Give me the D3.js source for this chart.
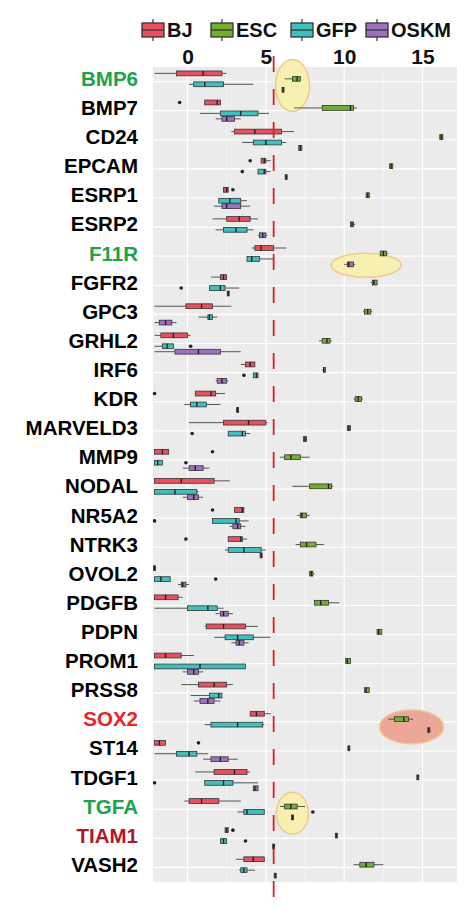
<!DOCTYPE html>
<html><head><meta charset="utf-8">
<script src="https://cdn.jsdelivr.net/npm/d3@7"></script>
<style>body{margin:0;background:#fff}text{font-family:"Liberation Sans",Arial,sans-serif;font-weight:bold}</style>
</head><body><svg id="c" width="474" height="908"></svg>
<script>
const genes=["BMP6","BMP7","CD24","EPCAM","ESRP1","ESRP2","F11R","FGFR2","GPC3","GRHL2","IRF6","KDR","MARVELD3","MMP9","NODAL","NR5A2","NTRK3","OVOL2","PDGFB","PDPN","PROM1","PRSS8","SOX2","ST14","TDGF1","TGFA","TIAM1","VASH2"];
const geneColors={BMP6:"#1aa34a",F11R:"#1aa34a",TGFA:"#1aa34a",SOX2:"#e8262a",TIAM1:"#b0182a"};
const groups=["BJ","ESC","GFP","OSKM"];
const groupColors=["#e8505f","#6fb02c","#3fbfbf","#a070c0"];
const xTicks=[0,5,10,15];
const threshold=5.5;
// [lo,q1,median,q3,hi]
const bjStats=[[-2.1,-0.7,1.0,2.2,2.5],[1.1,1.1,1.9,2.1,2.1],[2.8,3.0,4.3,6.0,6.8],[4.7,4.7,4.9,5.0,5.3],[2.3,2.3,2.5,2.6,2.6],[1.6,2.5,3.3,4.0,4.5],[4.1,4.3,4.7,5.5,6.3],[1.5,2.1,2.3,2.5,2.5],[-2.1,-0.1,0.9,1.6,2.8],[-2.1,-1.7,-0.9,0,0.2],[3.4,3.7,4.0,4.3,4.3],[0.5,0.5,1.5,1.8,2.4],[0.1,2.3,3.9,5.0,5.1],[-2.1,-2.1,-1.6,-1.2,-1.2],[-2.1,-2.1,-0.4,1.7,2.7],[3.0,3.0,3.5,3.6,3.6],[2.6,2.6,3.4,3.5,3.8],[-2.1,-2.1,-2.1,-2.1,-2.1],[-2.1,-2.1,-1.4,-0.6,-0.3],[1.1,1.2,2.3,3.7,4.5],[-2.1,-2.1,-1.4,-0.4,0.4],[-0.4,0.7,1.7,2.5,2.9],[4.0,4.0,4.4,4.9,5.3],[-2.1,-2.1,-1.8,-1.4,-1.4],[0.5,1.7,3.0,3.8,4.0],[-0.2,0.1,0.9,2.0,3.4],[2.4,2.4,2.5,2.6,2.6],[3.1,3.6,4.2,4.9,4.9]];
const bjOut=[[],[-0.5],[],[4.0],[2.9],[],[],[],[],[],[],[-2.1],[],[1.6],[],[1.6],[-0.1],[],[],[],[],[],[],[0.7],[],[],[2.9],[]];
const escStats=[[6.2,6.7,7.0,7.2,7.2],[6.8,8.6,10.4,10.6,10.8],[16.1,16.1,16.2,16.3,16.3],[12.9,12.9,13.0,13.1,13.1],[11.4,11.4,11.5,11.6,11.6],[10.4,10.4,10.5,10.6,10.7],[12.3,12.3,12.5,12.7,12.8],[11.7,11.8,11.9,12.1,12.1],[11.2,11.3,11.5,11.7,11.8],[8.4,8.6,8.9,9.1,9.2],[8.6,8.7,8.7,8.8,8.8],[10.6,10.7,10.9,11.1,11.2],[10.2,10.2,10.3,10.4,10.4],[5.9,6.2,6.6,7.2,7.8],[6.7,7.8,9.0,9.2,9.3],[7.0,7.2,7.3,7.6,7.8],[6.9,7.2,7.6,8.2,8.7],[7.8,7.8,7.9,8.0,8.1],[8.1,8.1,8.5,9.0,9.7],[12.1,12.1,12.2,12.4,12.4],[10.1,10.1,10.2,10.4,10.4],[11.3,11.3,11.4,11.6,11.6],[12.8,13.2,13.8,14.1,14.4],[10.3,10.3,10.3,10.3,10.3],[14.7,14.7,14.7,14.7,14.7],[5.9,6.2,6.6,7.0,7.5],[9.5,9.5,9.5,9.5,9.5],[10.6,11.0,11.4,11.9,12.5]];
const escOut=genes.map(()=>[]);
const gfpStats=[[0.1,0.4,1.1,2.3,4.2],[0.8,2.1,3.4,4.5,5.2],[3.5,4.2,5.0,6.0,6.3],[4.5,4.5,4.9,5.0,5.3],[2.0,2.0,2.7,3.4,3.8],[1.8,2.3,3.1,3.8,4.2],[3.8,3.8,4.1,4.6,5.5],[1.4,1.4,2.1,2.4,3.3],[0.7,1.3,1.4,1.6,1.9],[-2.1,-1.6,-1.3,-0.9,-0.9],[4.2,4.2,4.4,4.5,4.5],[-0.2,0.2,0.6,1.2,2.1],[2.6,2.6,3.5,3.7,4.0],[-2.1,-2.1,-1.9,-1.6,-1.6],[-2.1,-2.1,-0.8,0.6,0.7],[1.6,1.6,3.1,3.3,3.9],[2.4,2.6,3.6,4.7,5.0],[-2.1,-2.1,-1.7,-1.1,-1.1],[-2.1,0,1.3,1.9,2.3],[1.7,2.4,3.2,4.2,5.3],[-2.1,-2.1,0.8,3.7,3.7],[0.2,1.4,2.0,2.2,2.2],[1.1,1.5,3.2,4.8,4.9],[-2.1,-0.7,0.1,0.6,1.3],[1.1,1.1,2.3,2.9,4.5],[3.2,3.6,3.8,4.9,4.9],[2.1,2.1,2.3,2.5,2.5],[3.3,3.4,3.6,3.8,4.3]];
const gfpOut=[[],[],[],[3.5],[],[],[],[-0.4],[],[0.2],[3.6],[],[0.3],[-0.1],[],[-2.1],[],[1.8],[],[],[],[],[],[],[-2.1],[8.0],[3.7],[]];
const oskmStats=[[6.1,6.1,6.1,6.1,6.1],[1.8,2.2,2.5,3.0,3.4],[7.1,7.1,7.2,7.3,7.3],[6.3,6.3,6.3,6.3,6.3],[1.7,2.2,2.5,3.4,4.0],[4.5,4.6,4.8,5.0,5.1],[10.0,10.2,10.3,10.6,10.7],[2.6,2.6,2.6,2.6,2.6],[-2.1,-1.8,-1.4,-1.0,-0.7],[-2.1,-0.8,0.7,2.1,3.4],[1.8,1.9,2.2,2.5,2.6],[3.2,3.2,3.2,3.2,3.2],[7.4,7.4,7.5,7.6,7.6],[-0.3,0.1,0.5,1.0,1.4],[-0.3,0.0,0.4,0.7,1.0],[2.7,2.9,3.2,3.4,3.7],[4.7,4.7,4.7,4.7,4.7],[-0.6,-0.4,-0.3,-0.1,0.1],[1.8,2.1,2.3,2.6,2.9],[2.8,3.1,3.3,3.6,3.9],[-0.3,0,0.4,0.7,1.0],[0.4,0.8,1.3,1.7,2.1],[15.4,15.4,15.4,15.4,15.4],[1.0,1.5,2.1,2.6,3.2],[4.2,4.2,4.3,4.5,4.5],[6.7,6.7,6.7,6.7,6.7],[5.5,5.5,5.5,5.5,5.5],[5.6,5.6,5.6,5.6,5.6]];
const oskmOut=genes.map(()=>[]);
const allStats=[bjStats,escStats,gfpStats,oskmStats];
const allOut=[bjOut,escOut,gfpOut,oskmOut];
const highlights=[{gene:"BMP6",x:6.7,rx:17,ry:26,dy:4,fill:"#f7f0b0"},{gene:"F11R",x:11.4,rx:35,ry:12,dy:9,fill:"#f7f0b0"},{gene:"SOX2",x:14.3,rx:32,ry:17,dy:5,fill:"#eba898"},{gene:"TGFA",x:6.7,rx:16,ry:21,dy:4,fill:"#f7f0b0"}];

const svg=d3.select("#c");
const L=153,R=457,T=67,B=882;
const x=d3.scaleLinear().domain([-2.2,17.2]).range([L,R]);
const y=d3.scaleBand().domain(genes).range([T,B]);
const yg=d3.scaleBand().domain(groups).range([-y.bandwidth()*0.375,y.bandwidth()*0.375]);
svg.append("rect").attr("x",L).attr("y",T).attr("width",R-L).attr("height",B-T).attr("fill","#ebebeb");
const minor=[-2.5,2.5,7.5,12.5];
minor.forEach(v=>{if(x(v)>L)svg.append("line").attr("x1",x(v)).attr("x2",x(v)).attr("y1",T).attr("y2",B).attr("stroke","#f7f7f7").attr("stroke-width",0.6);});
xTicks.forEach(v=>svg.append("line").attr("x1",x(v)).attr("x2",x(v)).attr("y1",T).attr("y2",B).attr("stroke","#fff").attr("stroke-width",1.2));
genes.forEach(g=>svg.append("line").attr("x1",L).attr("x2",R).attr("y1",y(g)+y.bandwidth()/2).attr("y2",y(g)+y.bandwidth()/2).attr("stroke","#fff").attr("stroke-width",1.2));
highlights.forEach(h=>svg.append("ellipse").attr("cx",x(h.x)).attr("cy",y(h.gene)+y.bandwidth()/2+h.dy).attr("rx",h.rx).attr("ry",h.ry).attr("fill",h.fill).attr("stroke","#f0c890").attr("stroke-width",1.5));
const ax=svg.append("g").attr("transform",`translate(0,${T})`).call(d3.axisTop(x).tickValues(xTicks).tickSize(0).tickPadding(3));
ax.select(".domain").remove();
ax.selectAll("text").attr("font-size",21).attr("fill","#111");
genes.forEach(g=>svg.append("text").attr("x",138).attr("y",y(g)+y.bandwidth()/2-3).attr("dy","0.36em").attr("text-anchor","end").attr("font-size",20.5).attr("fill",geneColors[g]||"#000").text(g));
const bh=4.8;
groups.forEach((grp,gi)=>{
  genes.forEach((g,i)=>{
    const s=allStats[gi][i]; if(!s)return;
    const cy=y(g)+y.bandwidth()/2+yg(grp)+yg.bandwidth()/2;
    const gEl=svg.append("g");
    gEl.append("line").attr("x1",x(s[0])).attr("x2",x(s[1])).attr("y1",cy).attr("y2",cy).attr("stroke","#555").attr("stroke-width",1);
    gEl.append("line").attr("x1",x(s[3])).attr("x2",x(s[4])).attr("y1",cy).attr("y2",cy).attr("stroke","#555").attr("stroke-width",1);
    let x0=x(s[1]),w=x(s[3])-x(s[1]); if(w<2){x0-=(2-w)/2;w=2;}
    gEl.append("rect").attr("x",x0).attr("y",cy-bh/2).attr("width",w).attr("height",bh).attr("fill",groupColors[gi]).attr("stroke","#333").attr("stroke-width",0.8);
    gEl.append("line").attr("x1",x(s[2])).attr("x2",x(s[2])).attr("y1",cy-bh/2).attr("y2",cy+bh/2).attr("stroke","#222").attr("stroke-width",1.4);
    allOut[gi][i].forEach(o=>gEl.append("circle").attr("cx",x(o)).attr("cy",cy).attr("r",1.8).attr("fill","#222"));
  });
});
svg.append("line").attr("x1",x(threshold)).attr("x2",x(threshold)).attr("y1",56).attr("y2",898).attr("stroke","#e02020").attr("stroke-width",1.8).attr("stroke-dasharray","16,17");
const legX=[142,211,291,366];
groups.forEach((grp,gi)=>{
  const lg=svg.append("g").attr("transform",`translate(${legX[gi]},22)`);
  lg.append("line").attr("x1",11).attr("x2",11).attr("y1",-3).attr("y2",19).attr("stroke","#333").attr("stroke-width",1.2);
  lg.append("rect").attr("x",0).attr("y",1).attr("width",22).attr("height",14).attr("fill",groupColors[gi]).attr("stroke","#333").attr("stroke-width",1.3);
  lg.append("line").attr("x1",0).attr("x2",22).attr("y1",8).attr("y2",8).attr("stroke","#333").attr("stroke-width",1.3);
  lg.append("text").attr("x",25).attr("y",8).attr("dy","0.36em").attr("font-size",20).attr("fill","#111").text(grp);
});
</script></body></html>
